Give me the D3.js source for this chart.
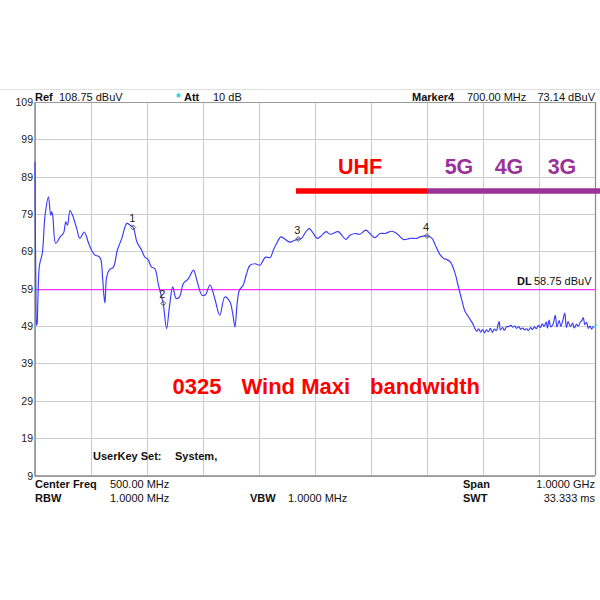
<!DOCTYPE html>
<html><head><meta charset="utf-8">
<script src="https://cdn.jsdelivr.net/npm/d3@7"></script>
<style>body{margin:0;background:#fff}svg{display:block}text{font-family:"Liberation Sans",Arial,sans-serif}</style>
</head><body>
<svg id="c" width="600" height="600"></svg>
<script>
// ---- data ----
const freqMHz = [0,0.5,1.5,2.5,3.5,4,5,8,13,18,24,28,30,32,37,45,51,55,58,62.5,67,74.5,80,88,95,101,107,113,117,121,123,125,128,133,140,147,155,164,170,175.5,182,190.5,196,202,208,214,220,226,229,235,240,246,252,258,265,274,283,289,298,304,312.5,321,330,339,348,353,357,361,365,372,377,384,393,402,411,420,425.5,431.5,439,446,455,464,470,476,484,490,497,504,512,520,527,541.5,548,555,562.5,571,580,591,598,607,616,625,637,646,658,670,682,687.5,700,709,714,723,729,741,750,756,762,768,774,783,785,789,792,796,799,803,806,810,813,817,820,824,827,829,831,835,838,842,846,850,853,857,860,864,867,871,874,878,881,885,888,892,895,899,902,906,909,913,915,918,921,925,929,932,936,939,943,946,949,952,956,960,963,967,970,974,977,979,982,985,988,991,994,997,1000];
const levelDbuV = [93,78,60,49.2,50.5,49.5,55,65.3,68.5,78.7,83.6,78.7,79.6,78.2,71.2,72.9,73.9,76.9,76,79.9,78.7,75.1,72.5,74.2,71.5,69.3,68,67.7,67.1,61.3,57.3,55.2,62.2,64.1,64.8,69.3,72.5,76.5,76,75.4,71.5,69.3,67.5,66.8,64.8,64.4,60.4,56.8,55.1,48.3,54.1,59.5,56.4,56.8,60.4,61.7,64,61.3,57.3,57.3,60,56.4,51.9,56.8,55.5,52.4,48.8,55,58.6,60,62.6,65.3,65.7,65.3,67.4,67.4,69.3,71.1,72.9,72.3,71.5,72,72.3,72.5,74.3,75.1,73.8,72.5,73.3,74.3,73.6,74.3,73.3,72.2,73.3,73.8,73.6,74.7,73.8,72.7,73.8,73.8,74.4,73.8,72.2,72.5,72.5,72.9,73.14,72.5,71,68.2,67.2,66.3,63.2,59.6,56.1,52.9,51.5,49.3,48.5,47.6,48.3,47.4,48.1,47.2,48,47.5,48.4,47.3,48.2,47.8,49.5,50.2,48,48.6,47.9,48.8,48.9,49.2,48.7,49,48.4,48.9,48.2,48.5,48,48.3,47.8,48.6,48.1,48.8,48.3,49.2,48.6,49.6,48.9,50.1,48.5,50.6,48.8,49.5,51.9,48.8,50.5,49,50.8,52.5,48.6,50.2,48.9,49.8,48.5,49.5,49,50.1,50.6,51.3,49.4,50,48.4,49,48.2,48.9,48.8];
const markerIds = ["1","2","3","4"];
const markerFreq = [175.5,229,470,700];
const markerLevel = [75.4,55.1,72.3,73.14];
const yTicks = [109,99,89,79,69,59,49,39,29,19,9];
const xGrid = [0,100,200,300,400,500,600,700,800,900,1000];
const displayLine = 58.75;
const bands = ["UHF","5G","4G","3G"];
const bandBars = [[466,700],[700,1010]];

const svg = d3.select("#c");
const x = d3.scaleLinear().domain([0,1000]).range([35,595]);
const y = d3.scaleLinear().domain([9,109]).range([475.5,102]);

// top separator
svg.append("line").attr("x1",0).attr("x2",600).attr("y1",89.5).attr("y2",89.5).attr("stroke","#e0e0e0");

// grid
svg.append("g").selectAll("line").data(yTicks).join("line")
  .attr("x1",x(0)).attr("x2",x(1000)).attr("y1",d=>Math.round(y(d))+0.5).attr("y2",d=>Math.round(y(d))+0.5)
  .attr("stroke","#cccccc").attr("stroke-width",1.1);
svg.append("g").selectAll("line").data(xGrid).join("line")
  .attr("y1",y(109)).attr("y2",y(9)).attr("x1",d=>Math.round(x(d))+0.5).attr("x2",d=>Math.round(x(d))+0.5)
  .attr("stroke","#cccccc").attr("stroke-width",1.1);
// frame
svg.append("line").attr("x1",x(0)).attr("x2",x(0)).attr("y1",y(109)).attr("y2",y(9)+1).attr("stroke","#8a8a8a").attr("stroke-width",1.5);
svg.append("line").attr("x1",x(0)).attr("x2",x(1000)).attr("y1",y(9)+0.5).attr("y2",y(9)+0.5).attr("stroke","#8a8a8a").attr("stroke-width",1.5);
svg.append("line").attr("x1",x(1000)+0.5).attr("x2",x(1000)+0.5).attr("y1",y(109)).attr("y2",y(9)).attr("stroke","#8a8a8a").attr("stroke-width",1.2);
svg.append("line").attr("x1",x(0)).attr("x2",x(1000)).attr("y1",y(109)+0.5).attr("y2",y(109)+0.5).attr("stroke","#9a9a9a").attr("stroke-width",1);

// y tick labels
svg.append("g").selectAll("text").data(yTicks).join("text")
  .attr("x",33).attr("y",d=>y(d)+4).attr("text-anchor","end")
  .attr("font-size",10.5).attr("fill","#222").text(d=>d);

// display line
svg.append("line").attr("x1",x(0)).attr("x2",x(1000)).attr("y1",y(displayLine)).attr("y2",y(displayLine))
  .attr("stroke","#ff33ff").attr("stroke-width",1.2);

// trace
const pts = freqMHz.map((f,i)=>[f,levelDbuV[i]]);
svg.append("path").datum(pts)
  .attr("d",d3.line().curve(d3.curveCatmullRom.alpha(0.5)).x(d=>x(d[0])).y(d=>y(d[1])))
  .attr("fill","none").attr("stroke","#3a3aff").attr("stroke-width",1.15).attr("stroke-linejoin","round");

// markers
const mk = svg.append("g");
markerIds.forEach((id,i)=>{
  const cx = x(markerFreq[i]), cy = y(markerLevel[i]);
  mk.append("path").attr("d",`M${cx},${cy-2.5}L${cx+2.5},${cy}L${cx},${cy+2.5}L${cx-2.5},${cy}Z`)
    .attr("fill","none").attr("stroke","#555").attr("stroke-width",1);
  mk.append("text").attr("x",cx-1).attr("y",cy-5).attr("text-anchor","middle")
    .attr("font-size",11).attr("fill","#222").text(id);
});
// cyan end tick
svg.append("line").attr("x1",x(1000)-2).attr("x2",x(1000)+2).attr("y1",y(48.8)+1).attr("y2",y(48.8)-2).attr("stroke","#33dddd").attr("stroke-width",1.2);

// band bars
svg.append("line").attr("x1",x(bandBars[0][0])).attr("x2",x(bandBars[0][1])).attr("y1",191).attr("y2",191).attr("stroke","#ff0000").attr("stroke-width",5.5);
svg.append("line").attr("x1",x(bandBars[1][0])).attr("x2",x(bandBars[1][1])).attr("y1",191).attr("y2",191).attr("stroke","#993399").attr("stroke-width",5.5);
const bandX = [360,459,509,562];
const bandColor = ["#ff0000","#993399","#993399","#993399"];
svg.append("g").selectAll("text").data(bands).join("text")
  .attr("x",(d,i)=>bandX[i]).attr("y",174).attr("text-anchor","middle")
  .attr("font-size",21.5).attr("font-weight","bold").attr("fill",(d,i)=>bandColor[i]).text(d=>d);

// title words
const titleWords = ["0325","Wind Maxi","bandwidth"];
const titleX = [172.5,241.5,370];
svg.append("g").selectAll("text").data(titleWords).join("text")
  .attr("x",(d,i)=>titleX[i]).attr("y",394).attr("font-size",22).attr("font-weight","bold")
  .attr("fill","#ff0000").text(d=>d);

// header / footer info
function t(xp,yp,s,opts={}){
  const e = svg.append("text").attr("x",xp).attr("y",yp).attr("font-size",opts.size||11)
    .attr("fill",opts.fill||"#111").text(s);
  if(opts.bold) e.attr("font-weight","bold");
  if(opts.anchor) e.attr("text-anchor",opts.anchor);
  return e;
}
t(35,101,"Ref",{bold:true});
t(59,101,"108.75 dBuV");
t(176,102,"*",{fill:"#22cccc",size:12,bold:true});
t(184,101,"Att",{bold:true});
t(213,101,"10 dB");
t(412,101,"Marker4",{bold:true});
t(467,101,"700.00 MHz");
t(595,101,"73.14 dBuV",{anchor:"end"});
t(517,285,"DL",{bold:true});
t(534,285,"58.75 dBuV");
t(93,460,"UserKey Set:",{bold:true});
t(175,460,"System,",{bold:true});
t(35,488,"Center Freq",{bold:true});
t(110,488,"500.00 MHz");
t(35,502,"RBW",{bold:true});
t(110,502,"1.0000 MHz");
t(250,502,"VBW",{bold:true});
t(288,502,"1.0000 MHz");
t(463,488,"Span",{bold:true});
t(595,488,"1.0000 GHz",{anchor:"end"});
t(463,502,"SWT",{bold:true});
t(595,502,"33.333 ms",{anchor:"end"});
</script>
</body></html>
